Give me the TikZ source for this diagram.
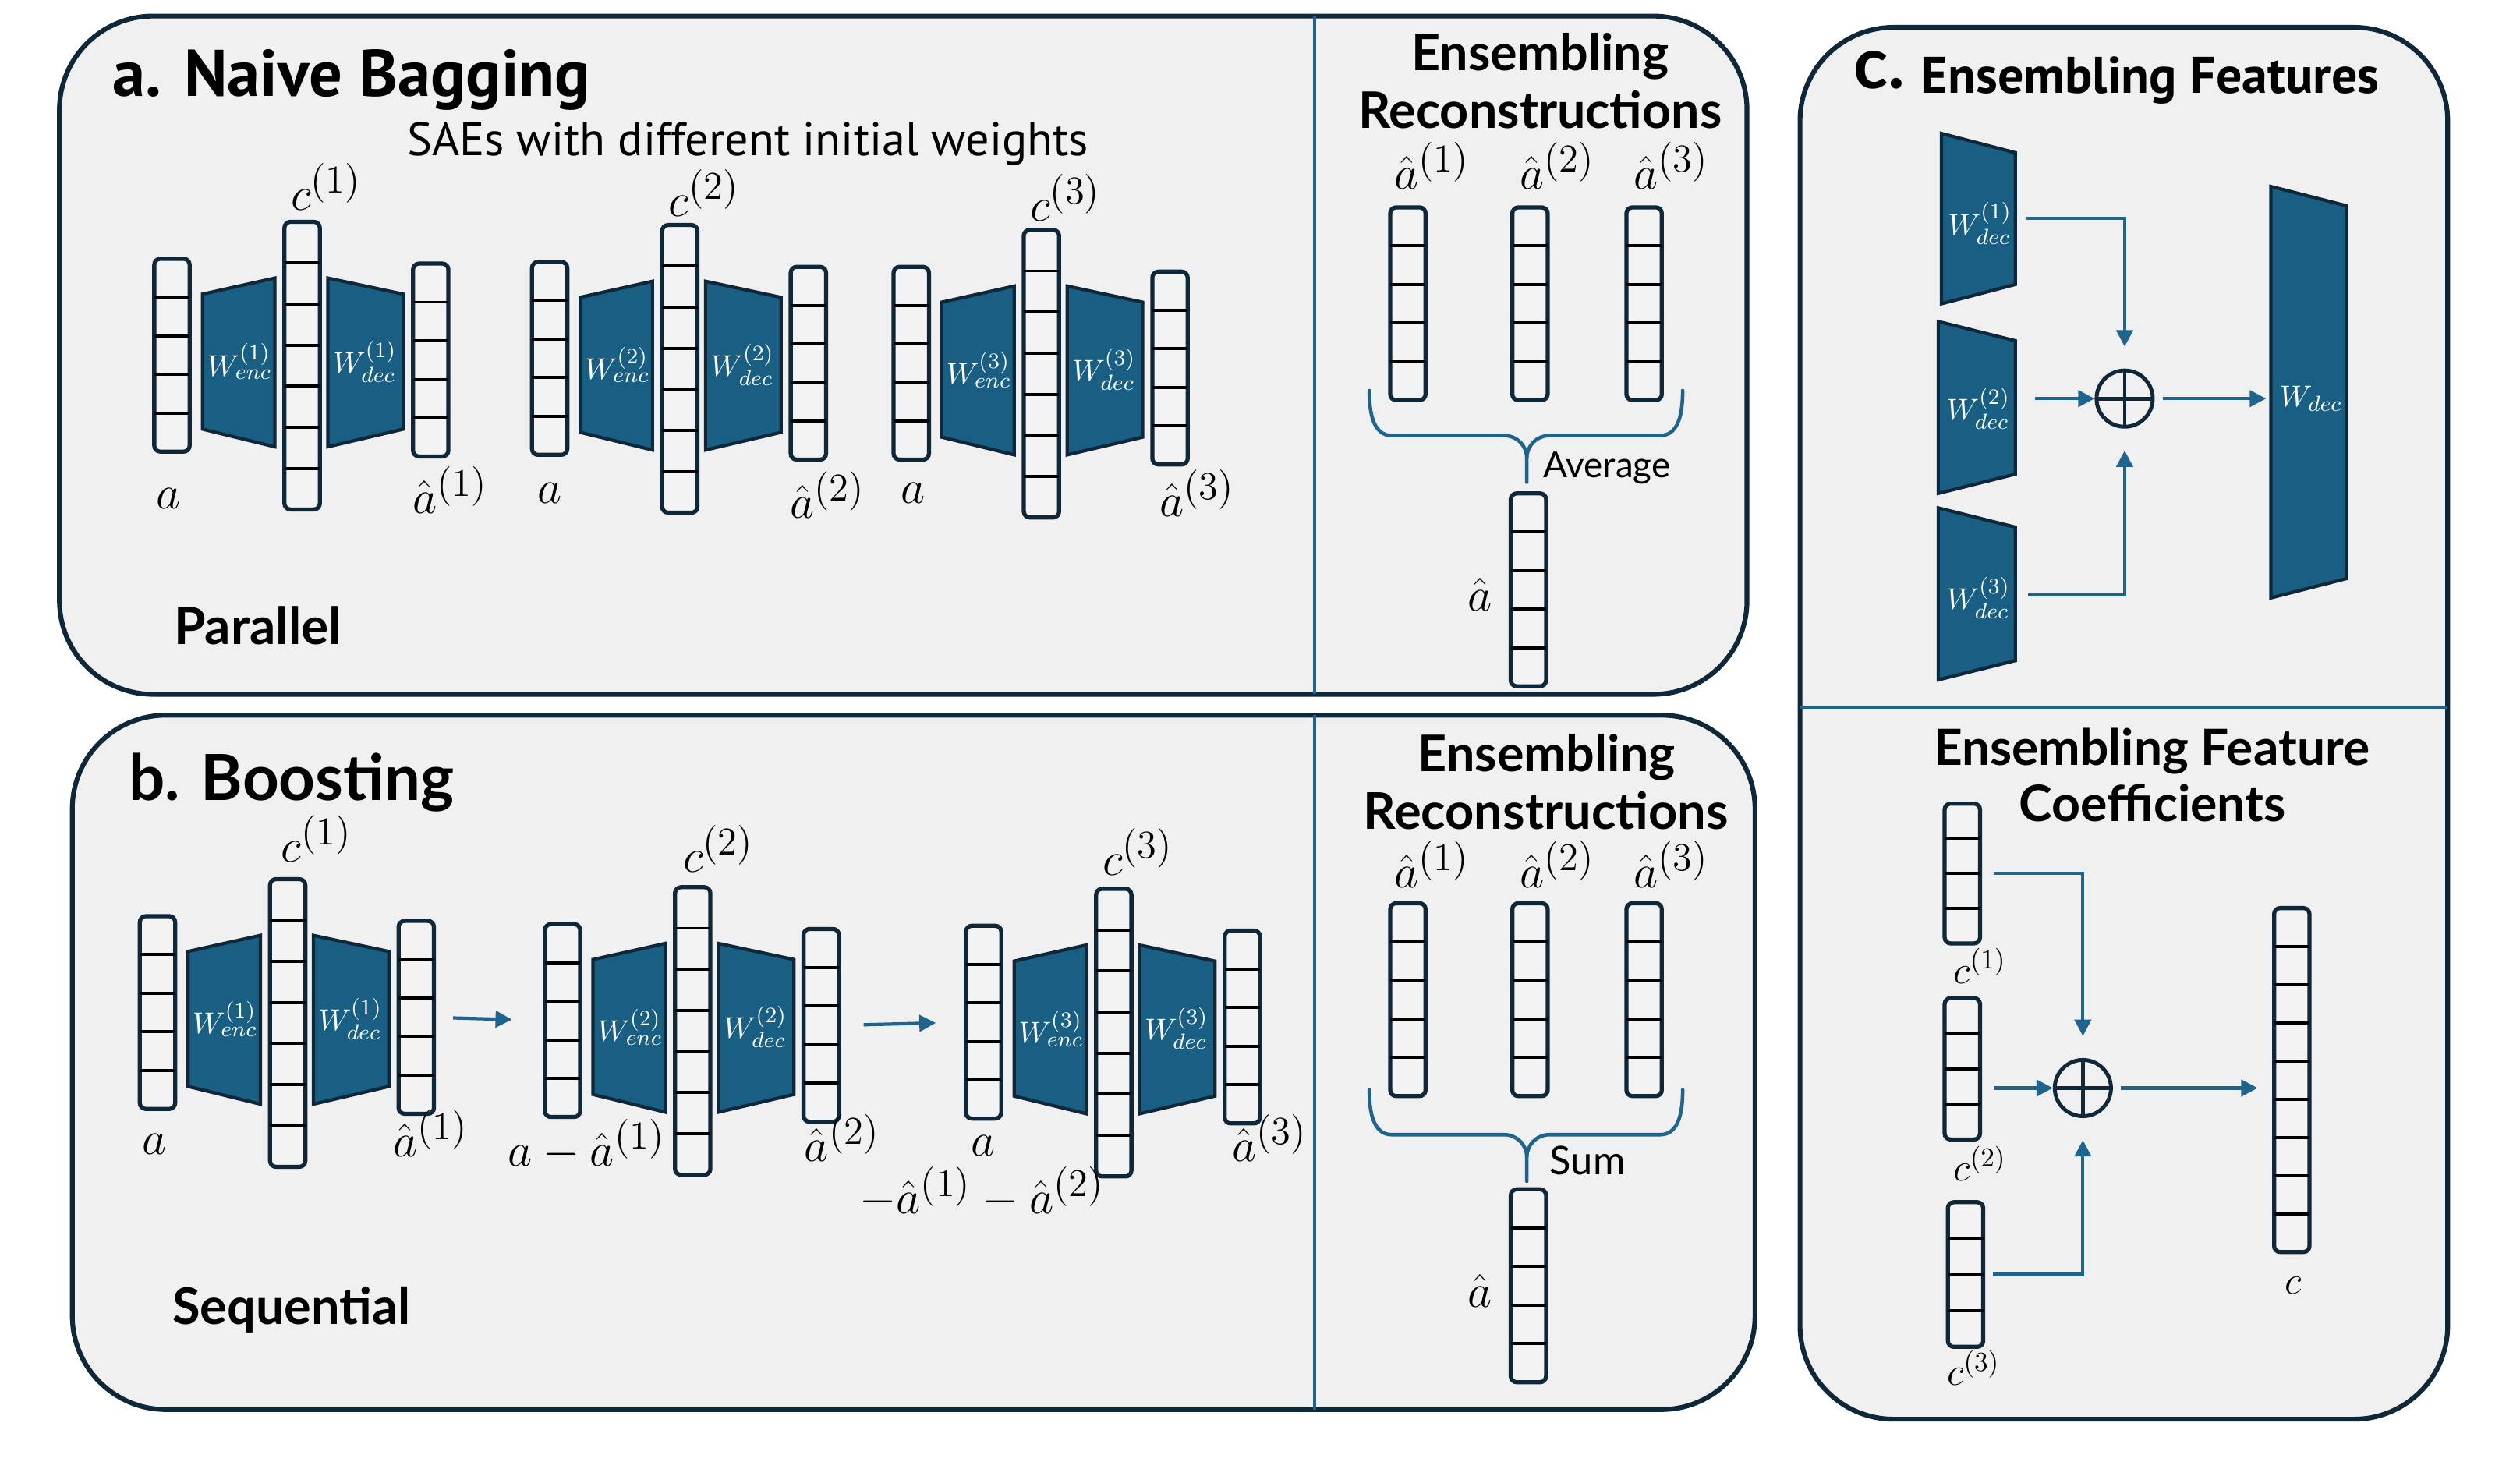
\documentclass[tikz,border=0pt]{standalone}
\usepackage{fontspec}
\setmainfont{Lato}
\newfontfamily\narrowfont{PT Sans}
\usepackage{graphicx}
\usetikzlibrary{calc,arrows.meta}
\newlength{\pxl}\setlength{\pxl}{0.02061cm}
\definecolor{navy}{RGB}{14,40,58}
\definecolor{steel}{RGB}{25,95,131}
\definecolor{arrowblue}{RGB}{30,100,140}
\definecolor{panelgray}{RGB}{240,240,240}
\definecolor{cellfill}{RGB}{243,243,243}
\tikzset{
  panel/.style={draw=navy, fill=panelgray, line width=1.75pt, rounded corners=1.2cm},
  divider/.style={draw=arrowblue, line width=1.1pt},
  vecst/.style={draw=navy, fill=cellfill, line width=1.5pt, rounded corners=2.2pt, minimum width=22*\pxl, inner sep=0pt, outer sep=0pt},
  cellst/.style={draw=black, line width=1.1pt},
  trap/.style={fill=steel, draw=navy, line width=1.2pt, line join=miter},
  wlab/.style={text=white, inner sep=0pt, font=\fontsize{11}{13}\selectfont},
  mlab/.style={inner sep=0pt, font=\fontsize{19}{22}\selectfont},
  slab/.style={inner sep=0pt, font=\fontsize{14}{16}\selectfont},
  txt/.style={inner sep=0pt, anchor=base west},
  arr/.style={draw=arrowblue, line width=1.2pt, -{Triangle[length=6pt,width=6pt]}},
  brace/.style={draw=arrowblue, line width=1.3pt, line cap=round},
  oplus/.style={circle, draw=navy, line width=1.4pt, minimum size=35*\pxl, inner sep=0pt,
    path picture={\draw[navy, line width=1.4pt] (path picture bounding box.north) -- (path picture bounding box.south) (path picture bounding box.west) -- (path picture bounding box.east);}}
}
\newcommand{\vecbox}[5]{%
  \node[vecst, minimum height=#4*\pxl, anchor=north west] (#1) at (#2,#3) {};
  \pgfmathtruncatemacro{\ncut}{#5-1}%
  \foreach \i in {1,...,\ncut}{\draw[cellst] ($(#1.north west)!\i/#5!(#1.south west)$) -- ($(#1.north east)!\i/#5!(#1.south east)$);}
}
\newcommand{\saeblock}[4]{%
  \vecbox{#1a}{#2}{#3}{120}{5}
  \filldraw[trap] (#2+30,#3+22) -- (#2+75,#3+12) -- (#2+75,#3+117) -- (#2+30,#3+106) -- cycle;
  \node[wlab] (#1enc) at (#2+53,#3+64) {$W^{(#4)}_{enc}$};
  \vecbox{#1c}{#2+81}{#3-23}{179}{7}
  \filldraw[trap] (#2+108,#3+12) -- (#2+155,#3+22) -- (#2+155,#3+106) -- (#2+108,#3+117) -- cycle;
  \node[wlab] (#1dec) at (#2+131,#3+64) {$W^{(#4)}_{dec}$};
  \vecbox{#1h}{#2+161}{#3+3}{120}{5}
}
\begin{document}
\begin{tikzpicture}[x=0.02061cm, y=-0.02061cm]
\useasboundingbox (0,0) rectangle (1568,918);
\fill[white] (0,0) rectangle (1568,918);

% ---------- panels ----------
\draw[panel] (37,10) rectangle (1087,432);
\draw[panel] (45,445) rectangle (1092,877);
\draw[panel] (1120,17) rectangle (1523,883);
\draw[divider] (818,10) -- (818,432);
\draw[divider] (818,445) -- (818,877);
\draw[divider] (1120,440) -- (1523,440);

% ---------- panel a ----------
\node[txt] (ta) at (70,60) {\resizebox{297\pxl}{!}{\narrowfont\bfseries a. Naive Bagging}};
\node[txt] (tsae) at (253,97) {\resizebox{424\pxl}{!}{\narrowfont SAEs with different initial weights}};
\node[txt] (tpar) at (108,401) {\resizebox{104\pxl}{!}{\bfseries Parallel}};

\saeblock{pa1}{96}{161}{1}
\saeblock{pa2}{331}{163}{2}
\saeblock{pa3}{556}{166}{3}
\node[mlab] (la1) at (105,310) {$a$};
\node[mlab] (lc1) at (203,116) {$c^{(1)}$};
\node[mlab] (lh1) at (280,305) {$\hat{a}^{(1)}$};
\node[mlab] (la2) at (342,307) {$a$};
\node[mlab] (lc2) at (438,120) {$c^{(2)}$};
\node[mlab] (lh2) at (515,308) {$\hat{a}^{(2)}$};
\node[mlab] (la3) at (568,307) {$a$};
\node[mlab] (lc3) at (663,123) {$c^{(3)}$};
\node[mlab] (lh3) at (745,307) {$\hat{a}^{(3)}$};

% ensembling reconstructions (a)
\node[txt] (tea1) at (878,44) {\resizebox{160\pxl}{!}{\bfseries Ensembling}};
\node[txt] (tea2) at (845,80) {\resizebox{226\pxl}{!}{\bfseries Reconstructions}};
\node[mlab] (lea1) at (891,103) {$\hat{a}^{(1)}$};
\node[mlab] (lea2) at (969,103) {$\hat{a}^{(2)}$};
\node[mlab] (lea3) at (1040,103) {$\hat{a}^{(3)}$};
\vecbox{ea1}{865}{129}{120}{5}
\vecbox{ea2}{941}{129}{120}{5}
\vecbox{ea3}{1012}{129}{120}{5}
\draw[brace] (852,243) to[out=-90,in=180] (866,271) -- (936,271) to[out=0,in=90] (950,285) -- (950,300);
\draw[brace] (1047,243) to[out=-90,in=0] (1033,271) -- (964,271) to[out=180,in=90] (950,285);
\node[txt] (tavg) at (960,297) {\resizebox{79\pxl}{!}{Average}};
\vecbox{eah}{940}{307}{120}{5}
\node[mlab] (leah) at (921,370) {$\hat{a}$};

% ---------- panel b ----------
\node[txt] (tb) at (80,498) {\resizebox{202\pxl}{!}{\bfseries b. Boosting}};
\node[txt] (tseq) at (107,824) {\resizebox{148\pxl}{!}{\bfseries Sequential}};

\saeblock{pb1}{87}{570}{1}
\saeblock{pb2}{339}{575}{2}
\saeblock{pb3}{601}{576}{3}
\draw[arr, shorten <=7pt, shorten >=12pt] (pb1h.east) -- (pb2a.west);
\draw[arr, shorten <=9pt, shorten >=11pt] (pb2h.east) -- (pb3a.west);
\node[mlab] (lba1) at (96,712) {$a$};
\node[mlab] (lbc1) at (197,522) {$c^{(1)}$};
\node[mlab] (lbh1) at (268,705) {$\hat{a}^{(1)}$};
\node[mlab] (lba2) at (365,712) {$a-\hat{a}^{(1)}$};
\node[mlab] (lbc2) at (447,528) {$c^{(2)}$};
\node[mlab] (lbh2) at (524,708) {$\hat{a}^{(2)}$};
\node[mlab] (lba3) at (612,713) {$a$};
\node[mlab] (lba3b) at (611,742) {$-\hat{a}^{(1)}-\hat{a}^{(2)}$};
\node[mlab] (lbc3) at (708,530) {$c^{(3)}$};
\node[mlab] (lbh3) at (790,708) {$\hat{a}^{(3)}$};

% ensembling reconstructions (b)
\node[txt] (teb1) at (882,480) {\resizebox{160\pxl}{!}{\bfseries Ensembling}};
\node[txt] (teb2) at (848,516) {\resizebox{227\pxl}{!}{\bfseries Reconstructions}};
\node[mlab] (leb1) at (891,538) {$\hat{a}^{(1)}$};
\node[mlab] (leb2) at (969,538) {$\hat{a}^{(2)}$};
\node[mlab] (leb3) at (1040,538) {$\hat{a}^{(3)}$};
\vecbox{eb1}{865}{562}{120}{5}
\vecbox{eb2}{941}{562}{120}{5}
\vecbox{eb3}{1012}{562}{120}{5}
\draw[brace] (852,678) to[out=-90,in=180] (866,706) -- (936,706) to[out=0,in=90] (950,720) -- (950,735);
\draw[brace] (1047,678) to[out=-90,in=0] (1033,706) -- (964,706) to[out=180,in=90] (950,720);
\node[txt] (tsum) at (964,731) {\resizebox{47\pxl}{!}{Sum}};
\vecbox{ebh}{940}{740}{120}{5}
\node[mlab] (lebh) at (921,803) {$\hat{a}$};

% ---------- panel c (top) ----------
\node[txt] (tc0) at (1153,55) {\resizebox{32\pxl}{!}{\bfseries c.}};
\node[txt] (tc1) at (1195,58) {\resizebox{285\pxl}{!}{\narrowfont\bfseries Ensembling Features}};
\filldraw[trap] (1208,83) -- (1254,95) -- (1254,177) -- (1208,189) -- cycle;
\filldraw[trap] (1206,200) -- (1254,212) -- (1254,295) -- (1206,307) -- cycle;
\filldraw[trap] (1206,316) -- (1254,328) -- (1254,411) -- (1206,423) -- cycle;
\filldraw[trap] (1413,116) -- (1460,128) -- (1460,360) -- (1413,372) -- cycle;
\node[wlab] (wd1) at (1232,139) {$W^{(1)}_{dec}$};
\node[wlab] (wd2) at (1231,254) {$W^{(2)}_{dec}$};
\node[wlab] (wd3) at (1231,372) {$W^{(3)}_{dec}$};
\node[wlab] (wdb) at (1438,248) {$W_{dec}$};
\node[oplus] (sum1) at (1322,248) {};
\coordinate (o1) at (1261,136);
\coordinate (o2) at (1266,248);
\coordinate (o3) at (1262,370);
\coordinate (in1) at (1410,248);
\draw[arr, shorten >=8pt] (o1) -| (sum1.north);
\draw[arr] (o2) -- (sum1.west);
\draw[arr, shorten >=8pt] (o3) -| (sum1.south);
\draw[arr, shorten <=3pt] (sum1.east) -- (in1);

% ---------- panel c (bottom) ----------
\node[txt] (tc2) at (1203,476) {\resizebox{271\pxl}{!}{\bfseries Ensembling Feature}};
\node[txt] (tc3) at (1256,511) {\resizebox{166\pxl}{!}{\bfseries Coefficients}};
\vecbox{cc1}{1210}{500}{87}{4}
\vecbox{cc2}{1210}{621}{88}{4}
\vecbox{cc3}{1212}{748}{90}{4}
\vecbox{ccb}{1415}{565}{214}{9}
\node[slab] (lcc1) at (1232,601) {$c^{(1)}$};
\node[slab] (lcc2) at (1232,724) {$c^{(2)}$};
\node[slab] (lcc3) at (1228,851) {$c^{(3)}$};
\node[slab] (lccb) at (1427,800) {$c$};
\node[oplus] (sum2) at (1296,677) {};
\draw[arr, shorten <=5pt, shorten >=8pt] (cc1.east) -| (sum2.north);
\draw[arr, shorten <=5pt] (cc2.east |- sum2.west) -- (sum2.west);
\draw[arr, shorten <=3.5pt, shorten >=8pt] (cc3.east) -| (sum2.south);
\draw[arr, shorten <=3pt, shorten >=6pt] (sum2.east) -- (sum2.east -| ccb.west);
\end{tikzpicture}
\end{document}
